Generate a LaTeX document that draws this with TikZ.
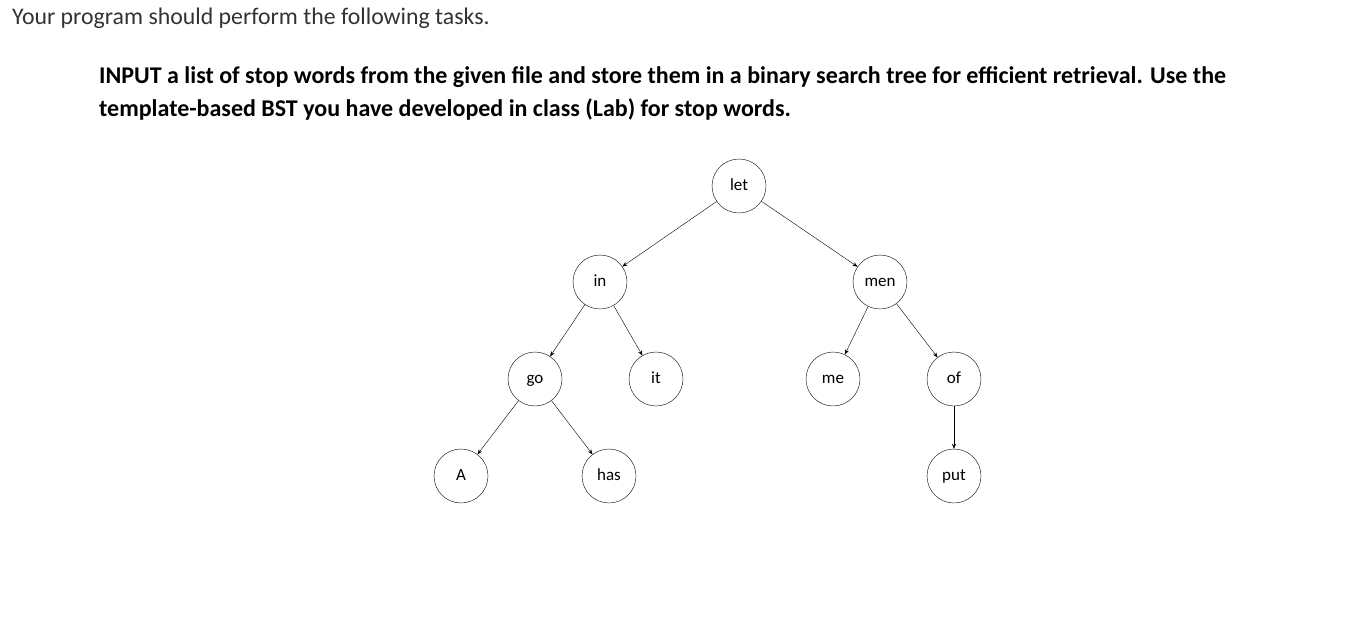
\documentclass[tikz,border=0pt]{standalone}
\usepackage{fontspec}
\setmainfont{Carlito}
\usetikzlibrary{arrows.meta}
\begin{document}
\begin{tikzpicture}[x=1pt,y=-1pt,
  bn/.style={circle,draw,thin,minimum size=54pt,inner sep=0pt,text height=11pt,text depth=3pt,font=\fontsize{17}{17}\selectfont},
  ed/.style={-{Stealth[length=5pt,width=4pt]},thin}]
\useasboundingbox (0,0) rectangle (1361,642);
\node[anchor=west,text=black!80,inner sep=0pt,font=\fontsize{23.8}{28}\selectfont] (t1) at (12,18) {Your program should perform the following tasks.};
\node[anchor=west,inner sep=0pt,font=\bfseries\fontsize{24}{28}\selectfont] (t2) at (99,77) {INPUT a list of stop words from the given file and store them in a binary search tree for efficient retrieval. Use the};
\node[anchor=west,inner sep=0pt,font=\bfseries\fontsize{24}{28}\selectfont] (t3) at (99,109) {template-based BST you have developed in class (Lab) for stop words.};
\node[bn] (let) at (739,186) {let};
\node[bn] (in) at (600,282) {in};
\node[bn] (men) at (880,282) {men};
\node[bn] (go) at (535,379) {go};
\node[bn] (it) at (656,379) {it};
\node[bn] (me) at (833,379) {me};
\node[bn] (of) at (954,379) {of};
\node[bn] (A) at (461,476) {A};
\node[bn] (has) at (609,476) {has};
\node[bn] (put) at (954,476) {put};
\foreach \a/\b in {let/in,let/men,in/go,in/it,men/me,men/of,go/A,go/has,of/put}
  \draw[ed] (\a) -- (\b);
\end{tikzpicture}
\end{document}
